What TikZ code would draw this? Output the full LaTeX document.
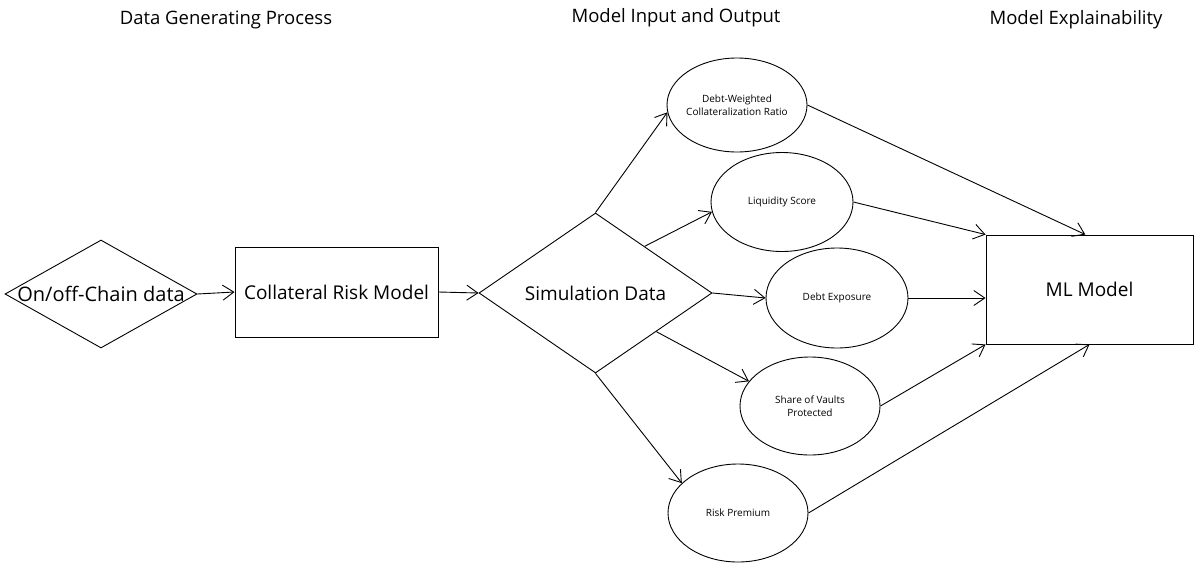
\documentclass[tikz,border=0pt]{standalone}
\usepackage{fontspec}
\setmainfont{Open Sans}
\usetikzlibrary{shapes.geometric,arrows.meta,calc}
\begin{document}
\begin{tikzpicture}[x=1pt,y=-1pt,
  every path/.style={line width=0.9pt},
  title/.style={font=\fontsize{18.5}{22}\selectfont},
  bigtxt/.style={font=\fontsize{19}{22}\selectfont},
  midtxt/.style={font=\fontsize{20}{22}\selectfont},
  smalltxt/.style={font=\fontsize{10}{13}\selectfont, align=center},
  dia/.style={draw, diamond, inner sep=0pt, line width=0.9pt},
  boxnode/.style={draw, rectangle, inner sep=0pt, line width=0.9pt},
  ell/.style={draw, ellipse, inner sep=0pt, line width=0.9pt},
  arr/.style={-{Straight Barb[length=11pt,width=15pt]}, line width=0.9pt}
]
\useasboundingbox (0,0) rectangle (1200,568);
\fill[white] (0,0) rectangle (1200,568);

% titles
\node[title] (t1) at (226,20) {Data Generating Process};
\node[title] (t2) at (676,18) {Model Input and Output};
\node[title] (t3) at (1076,20) {Model Explainability};

% main nodes
\node[dia, minimum width=192pt, minimum height=108pt,
      label={[midtxt]center:On/off-Chain data}] (d1) at (101,294) {};
\node[boxnode, minimum width=203pt, minimum height=90pt,
      label={[bigtxt]center:Collateral Risk Model}] (r1) at (336.5,292) {};
\node[dia, minimum width=233pt, minimum height=160pt,
      label={[bigtxt]center:Simulation Data}] (d2) at (595.5,293) {};

\node[ell, minimum width=140pt, minimum height=94pt,
      label={[smalltxt]center:Debt-Weighted\\Collateralization Ratio}] (e1) at (737,105) {};
\node[ell, minimum width=142pt, minimum height=99pt,
      label={[smalltxt]center:Liquidity Score}] (e2) at (782,202) {};
\node[ell, minimum width=142pt, minimum height=100pt,
      label={[smalltxt]center:Debt Exposure}] (e3) at (837,298) {};
\node[ell, minimum width=140pt, minimum height=98pt,
      label={[smalltxt]center:Share of Vaults\\Protected}] (e4) at (810,406) {};
\node[ell, minimum width=140pt, minimum height=98pt,
      label={[smalltxt]center:Risk Premium}] (e5) at (738,513) {};

\node[boxnode, minimum width=207pt, minimum height=109pt,
      label={[bigtxt]center:ML Model}] (ml) at (1089.5,289.5) {};

% connectors
\draw[arr] (d1.east) -- (r1.west);
\draw[arr] (r1.east) -- (d2.west);

\draw[arr] (d2.north) -- (e1.186);
\draw[arr] ($(d2.north)!0.42!(d2.east)$) -- (e2.188);
\draw[arr] (d2.east) -- (e3.west);
\draw[arr] ($(d2.east)!0.48!(d2.south)$) -- (e4.158);
\draw[arr] (d2.south) -- (e5.152);

\draw[arr] (e1.east) -- ($(ml.north west)!0.48!(ml.north east)$);
\draw[arr] (e2.east) -- (ml.north west);
\draw[arr] (e3.east) -- (e3.east -| ml.west);
\draw[arr] (e4.east) -- (ml.south west);
\draw[arr] (e5.east) -- (ml.south);
\end{tikzpicture}
\end{document}
